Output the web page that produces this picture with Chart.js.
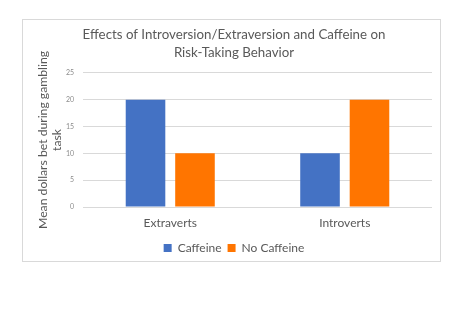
<!DOCTYPE html>
<html>
<head>
<meta charset="utf-8">
<script src="https://cdn.jsdelivr.net/npm/chart.js@4/dist/chart.umd.min.js"></script>
<style>
  html, body { margin: 0; padding: 0; background: #ffffff; }
  body { width: 473px; height: 324px; position: relative; overflow: hidden; }
  #box { position: absolute; left: 22px; top: 19px; width: 417px; height: 241px; border: 1px solid #d9d9d9; background: #fff; }
  #box canvas { display: block; }
</style>
</head>
<body>
<div id="box"><canvas id="c" width="417" height="241"></canvas></div>
<script>
const categories = ["Extraverts", "Introverts"];
const seriesNames = ["Caffeine", "No Caffeine"];
const caffeineValues = [20, 10];
const noCaffeineValues = [10, 20];
const yTicks = [0, 5, 10, 15, 20, 25];
const titleLines = ["Effects of Introversion/Extraversion and Caffeine on", "Risk-Taking Behavior"];
const yTitleLines = ["Mean dollars bet during gambling", "task"];

const FONT = "Lato, 'Open Sans', sans-serif";
const GREY = "#595959";

new Chart(document.getElementById("c"), {
  type: "bar",
  data: {
    labels: categories,
    datasets: [
      { label: seriesNames[0], data: caffeineValues, backgroundColor: "#4472C4", borderWidth: 0,
        categoryPercentage: 0.567, barPercentage: 0.8 },
      { label: seriesNames[1], data: noCaffeineValues, backgroundColor: "#FF7500", borderWidth: 0,
        categoryPercentage: 0.567, barPercentage: 0.8 }
    ]
  },
  options: {
    responsive: false,
    animation: false,
    devicePixelRatio: 1,
    layout: { padding: { left: 13, right: 8, top: 6, bottom: -3 } },
    plugins: {
      title: {
        display: true,
        text: titleLines,
        color: GREY,
        font: { family: FONT, size: 13.3, weight: "normal", lineHeight: 1.35 },
        padding: { top: 0, bottom: 11 }
      },
      legend: {
        position: "bottom",
        labels: {
          color: GREY,
          font: { family: FONT, size: 12 },
          boxWidth: 8, boxHeight: 8,
          padding: 6
        }
      },
      tooltip: { enabled: false }
    },
    scales: {
      x: {
        afterFit: (s) => { s.height = 29; },
        grid: { display: false, drawTicks: false },
        border: { display: false },
        ticks: { color: GREY, font: { family: FONT, size: 12 }, padding: 9 }
      },
      y: {
        min: 0, max: 25,
        afterBuildTicks: (s) => { s.ticks = yTicks.map(v => ({ value: v })); },
        afterFit: (s) => { s.width = 47; },
        grid: { color: "#d9d9d9", drawTicks: false, lineWidth: 1 },
        border: { display: false },
        ticks: { color: "#8c8c8c", font: { family: FONT, size: 7 }, padding: 9 },
        title: {
          display: true,
          text: yTitleLines,
          color: GREY,
          font: { family: FONT, size: 12.2, lineHeight: 1.15 },
          padding: 0
        }
      }
    }
  }
});
</script>
</body>
</html>
